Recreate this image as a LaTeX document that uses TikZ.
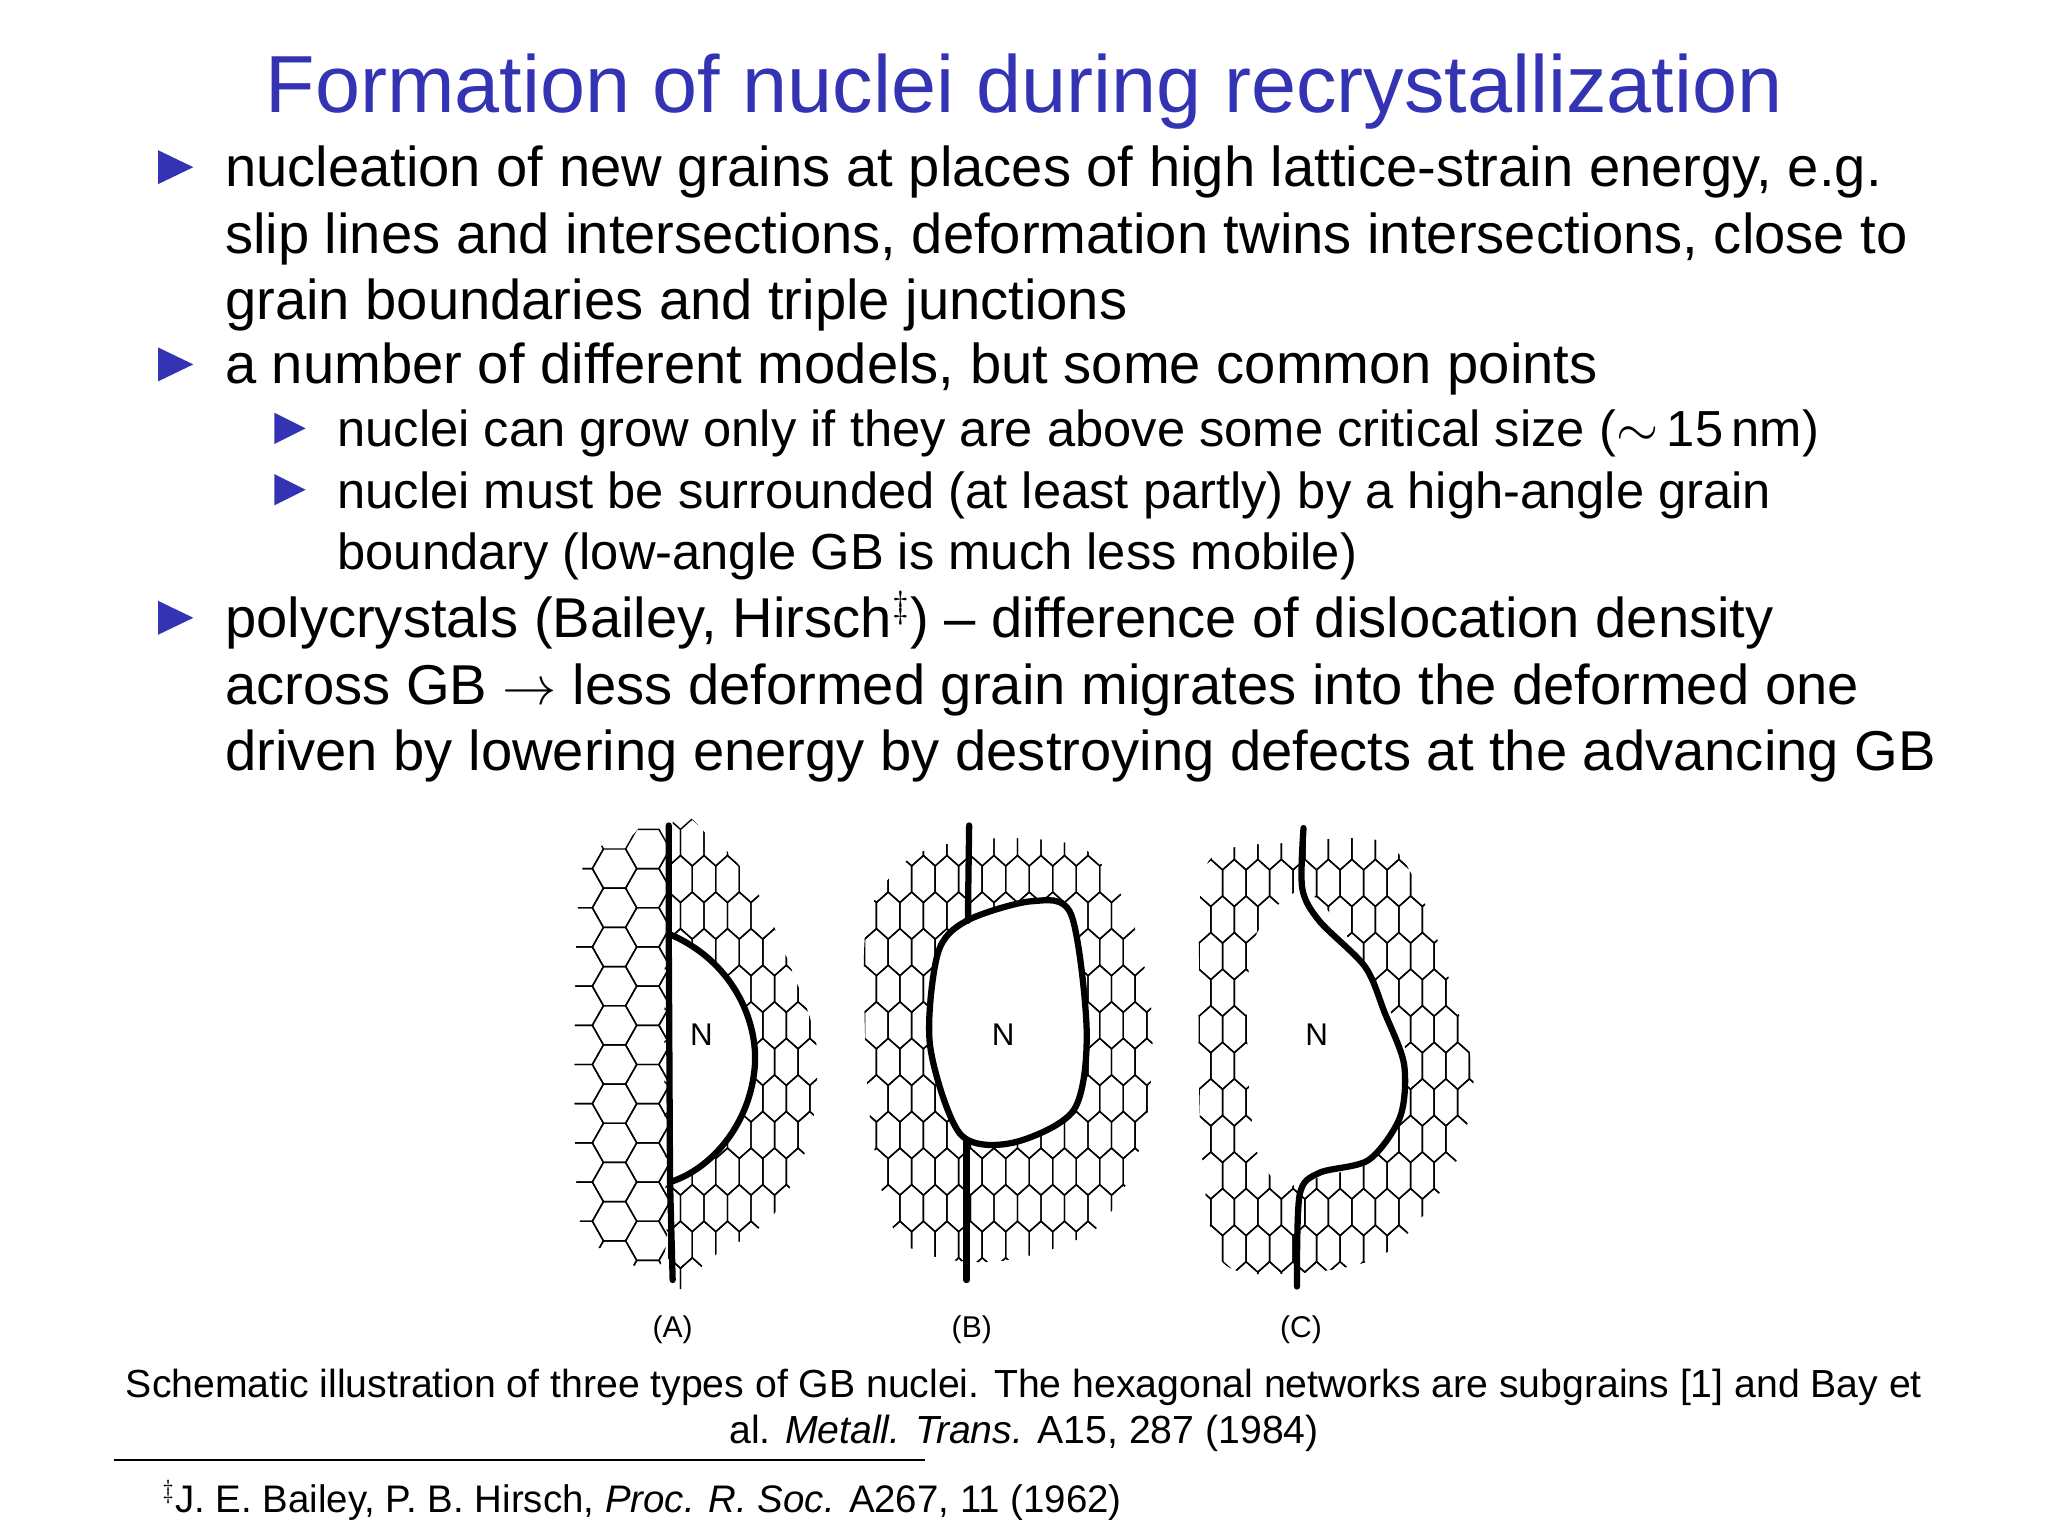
\documentclass[tikz,border=0pt]{standalone}
\usepackage{fontspec}
\setmainfont{Liberation Sans}
\definecolor{bblue}{RGB}{51,51,179}
\begin{document}
\begin{tikzpicture}[x=0.5pt,y=-0.5pt,
  hexl/.style={line width=0.55pt,black,line join=round},
  gb/.style={line width=2.4pt,black,line join=round,line cap=round},
  body/.style={anchor=base west,inner sep=0pt,font=\fontsize{21.5}{25}\selectfont},
  sub/.style={anchor=base west,inner sep=0pt,font=\fontsize{19.4}{23}\selectfont},
  lab/.style={inner sep=0pt,font=\fontsize{11.5}{13}\selectfont}]
\newcommand\hexP[2]{\draw[hexl,shift={(#1,#2)}] (0,-18)--(9,-10)--(9,10)--(0,18)--(-9,10)--(-9,-10)--cycle;}
\newcommand\hexF[2]{\draw[hexl,shift={(#1,#2)}] (-17,0)--(-8.5,-15)--(8.5,-15)--(17,0)--(8.5,15)--(-8.5,15)--cycle;}
\useasboundingbox (0,0) rectangle (1568,1176);
\fill[white] (0,0) rectangle (1568,1176);
% title
\node[anchor=base,inner sep=0pt,text=bblue,font=\fontsize{31}{36}\selectfont] (title) at (784,86) {Formation of nuclei during recrystallization};
% bullets
\foreach \y in {143,294,488}{\fill[bblue] (121,\y-28)--(148,\y-15)--(121,\y-2)--cycle;}
\foreach \y in {342,389}{\fill[bblue] (210,\y-26)--(234,\y-14)--(210,\y-2)--cycle;}
\node[body] (t1) at (172,143) {nucleation of new grains at places of high lattice-strain energy, e.g.};
\node[body] (t2) at (172,194) {slip lines and intersections, deformation twins intersections, close to};
\node[body] (t3) at (172,245) {grain boundaries and triple junctions};
\node[body] (t4) at (172,294) {a number of different models, but some common points};
\node[sub] (s1) at (258,342) {nuclei can grow only if they are above some critical size ($\sim$\,15\,nm)};
\node[sub] (s2) at (258,389) {nuclei must be surrounded (at least partly) by a high-angle grain};
\node[sub] (s3) at (258,436) {boundary (low-angle GB is much less mobile)};
\node[body] (t5) at (172,488) {polycrystals (Bailey, Hirsch$^\ddagger$) -- difference of dislocation density};
\node[body] (t6) at (172,539) {across GB $\rightarrow$ less deformed grain migrates into the deformed one};
\node[body] (t7) at (172,590) {driven by lowering energy by destroying defects at the advancing GB};
% ---------- (A)
\begin{scope}
\clip plot[smooth cycle] coordinates {(446,665) (480,643) (512,640) (510,952) (470,958) (444,935) (440,800)};
\foreach \i in {0,...,4}{\foreach \j in {0,...,11}{
  \pgfmathsetmacro\cx{445+25.5*\i}\pgfmathsetmacro\cy{650+30*\j+15*mod(\i,2)}
  \hexF{\cx}{\cy}}}
\end{scope}
\begin{scope}
\clip plot[smooth cycle] coordinates {(512,645) (545,642) (578,680) (605,740) (625,800) (620,870) (592,930) (545,962) (512,968)};
\foreach \i in {0,...,7}{\foreach \j in {0,...,12}{
  \pgfmathsetmacro\cx{512+18*\i+9*mod(\j,2)}\pgfmathsetmacro\cy{645+28*\j}
  \hexP{\cx}{\cy}}}
\fill[white] (512,715) .. controls (560,735) and (580,780) .. (578,815) .. controls (575,860) and (545,895) .. (513,905) -- cycle;
\end{scope}
\coordinate (a1) at (512,632); \coordinate (a2) at (512,715); \coordinate (a3) at (513,905); \coordinate (a4) at (515,980);
\draw[gb] (a1)--(a2)--(a3)--(a4);
\draw[gb] (a2) .. controls (560,735) and (580,780) .. (578,815) .. controls (575,860) and (545,895) .. (a3);
\node[lab,font=\fontsize{12}{14}\selectfont] (nA) at (537,792) {N};
\node[lab] (lA) at (515,1018) {(A)};
% ---------- (B)
\begin{scope}
\clip plot[smooth cycle] coordinates {(665,700) (700,655) (760,642) (830,650) (865,700) (882,780) (875,870) (840,940) (760,966) (690,950) (668,870) (662,780)};
\foreach \i in {0,...,13}{\foreach \j in {0,...,12}{
  \pgfmathsetmacro\cx{662+18*\i+9*mod(\j,2)}\pgfmathsetmacro\cy{645+28*\j}
  \hexP{\cx}{\cy}}}
\fill[white] plot[smooth cycle] coordinates {(740,705) (790,690) (820,700) (832,790) (822,850) (775,875) (735,868) (712,800) (718,730)};
\end{scope}
\draw[gb] plot[smooth cycle] coordinates {(740,705) (790,690) (820,700) (832,790) (822,850) (775,875) (735,868) (712,800) (718,730)};
\coordinate (b1) at (742,632); \coordinate (b2) at (741,705); \coordinate (b3) at (740,873); \coordinate (b4) at (740,980);
\draw[gb] (b1)--(b2); \draw[gb] (b3)--(b4);
\node[lab,font=\fontsize{12}{14}\selectfont] (nB) at (768,792) {N};
\node[lab] (lB) at (744,1018) {(B)};
% ---------- (C)
\begin{scope}
\clip plot[smooth cycle] coordinates {(925,660) (990,645) (1060,645) (1090,690) (1115,770) (1128,830) (1110,900) (1060,960) (990,975) (935,965) (920,880) (918,760)};
\foreach \i in {0,...,12}{\foreach \j in {0,...,12}{
  \pgfmathsetmacro\cx{918+18*\i+9*mod(\j,2)}\pgfmathsetmacro\cy{648+28*\j}
  \hexP{\cx}{\cy}}}
\fill[white] plot[smooth cycle] coordinates {(998,682) (1040,730) (1075,800) (1075,850) (1045,890) (995,905) (983,910) (962,880) (955,800) (960,720)};
\end{scope}
\coordinate (c1) at (998,634); \coordinate (c4) at (993,985);
\draw[gb] plot[smooth] coordinates {(998,634) (997,680) (1010,705) (1045,740) (1060,775) (1075,815) (1072,855) (1048,888) (1010,898) (995,915) (993,985)};
\node[lab,font=\fontsize{12}{14}\selectfont] (nC) at (1008,792) {N};
\node[lab] (lC) at (996,1018) {(C)};
% caption
\node[anchor=base,inner sep=0pt,font=\fontsize{15}{18}\selectfont] (cap1) at (784,1070) {Schematic illustration of three types of GB nuclei. The hexagonal networks are subgrains [1] and Bay et};
\node[anchor=base,inner sep=0pt,font=\fontsize{15}{18}\selectfont] (cap2) at (784,1105) {al. \textit{Metall. Trans.} A15, 287 (1984)};
\draw[line width=0.6pt] (87,1118) -- (708,1118);
\node[anchor=base west,inner sep=0pt,font=\fontsize{14.7}{17}\selectfont] (fn) at (124,1158) {$^\ddagger$J. E. Bailey, P. B. Hirsch, \textit{Proc. R. Soc.} A267, 11 (1962)};
\end{tikzpicture}
\end{document}
